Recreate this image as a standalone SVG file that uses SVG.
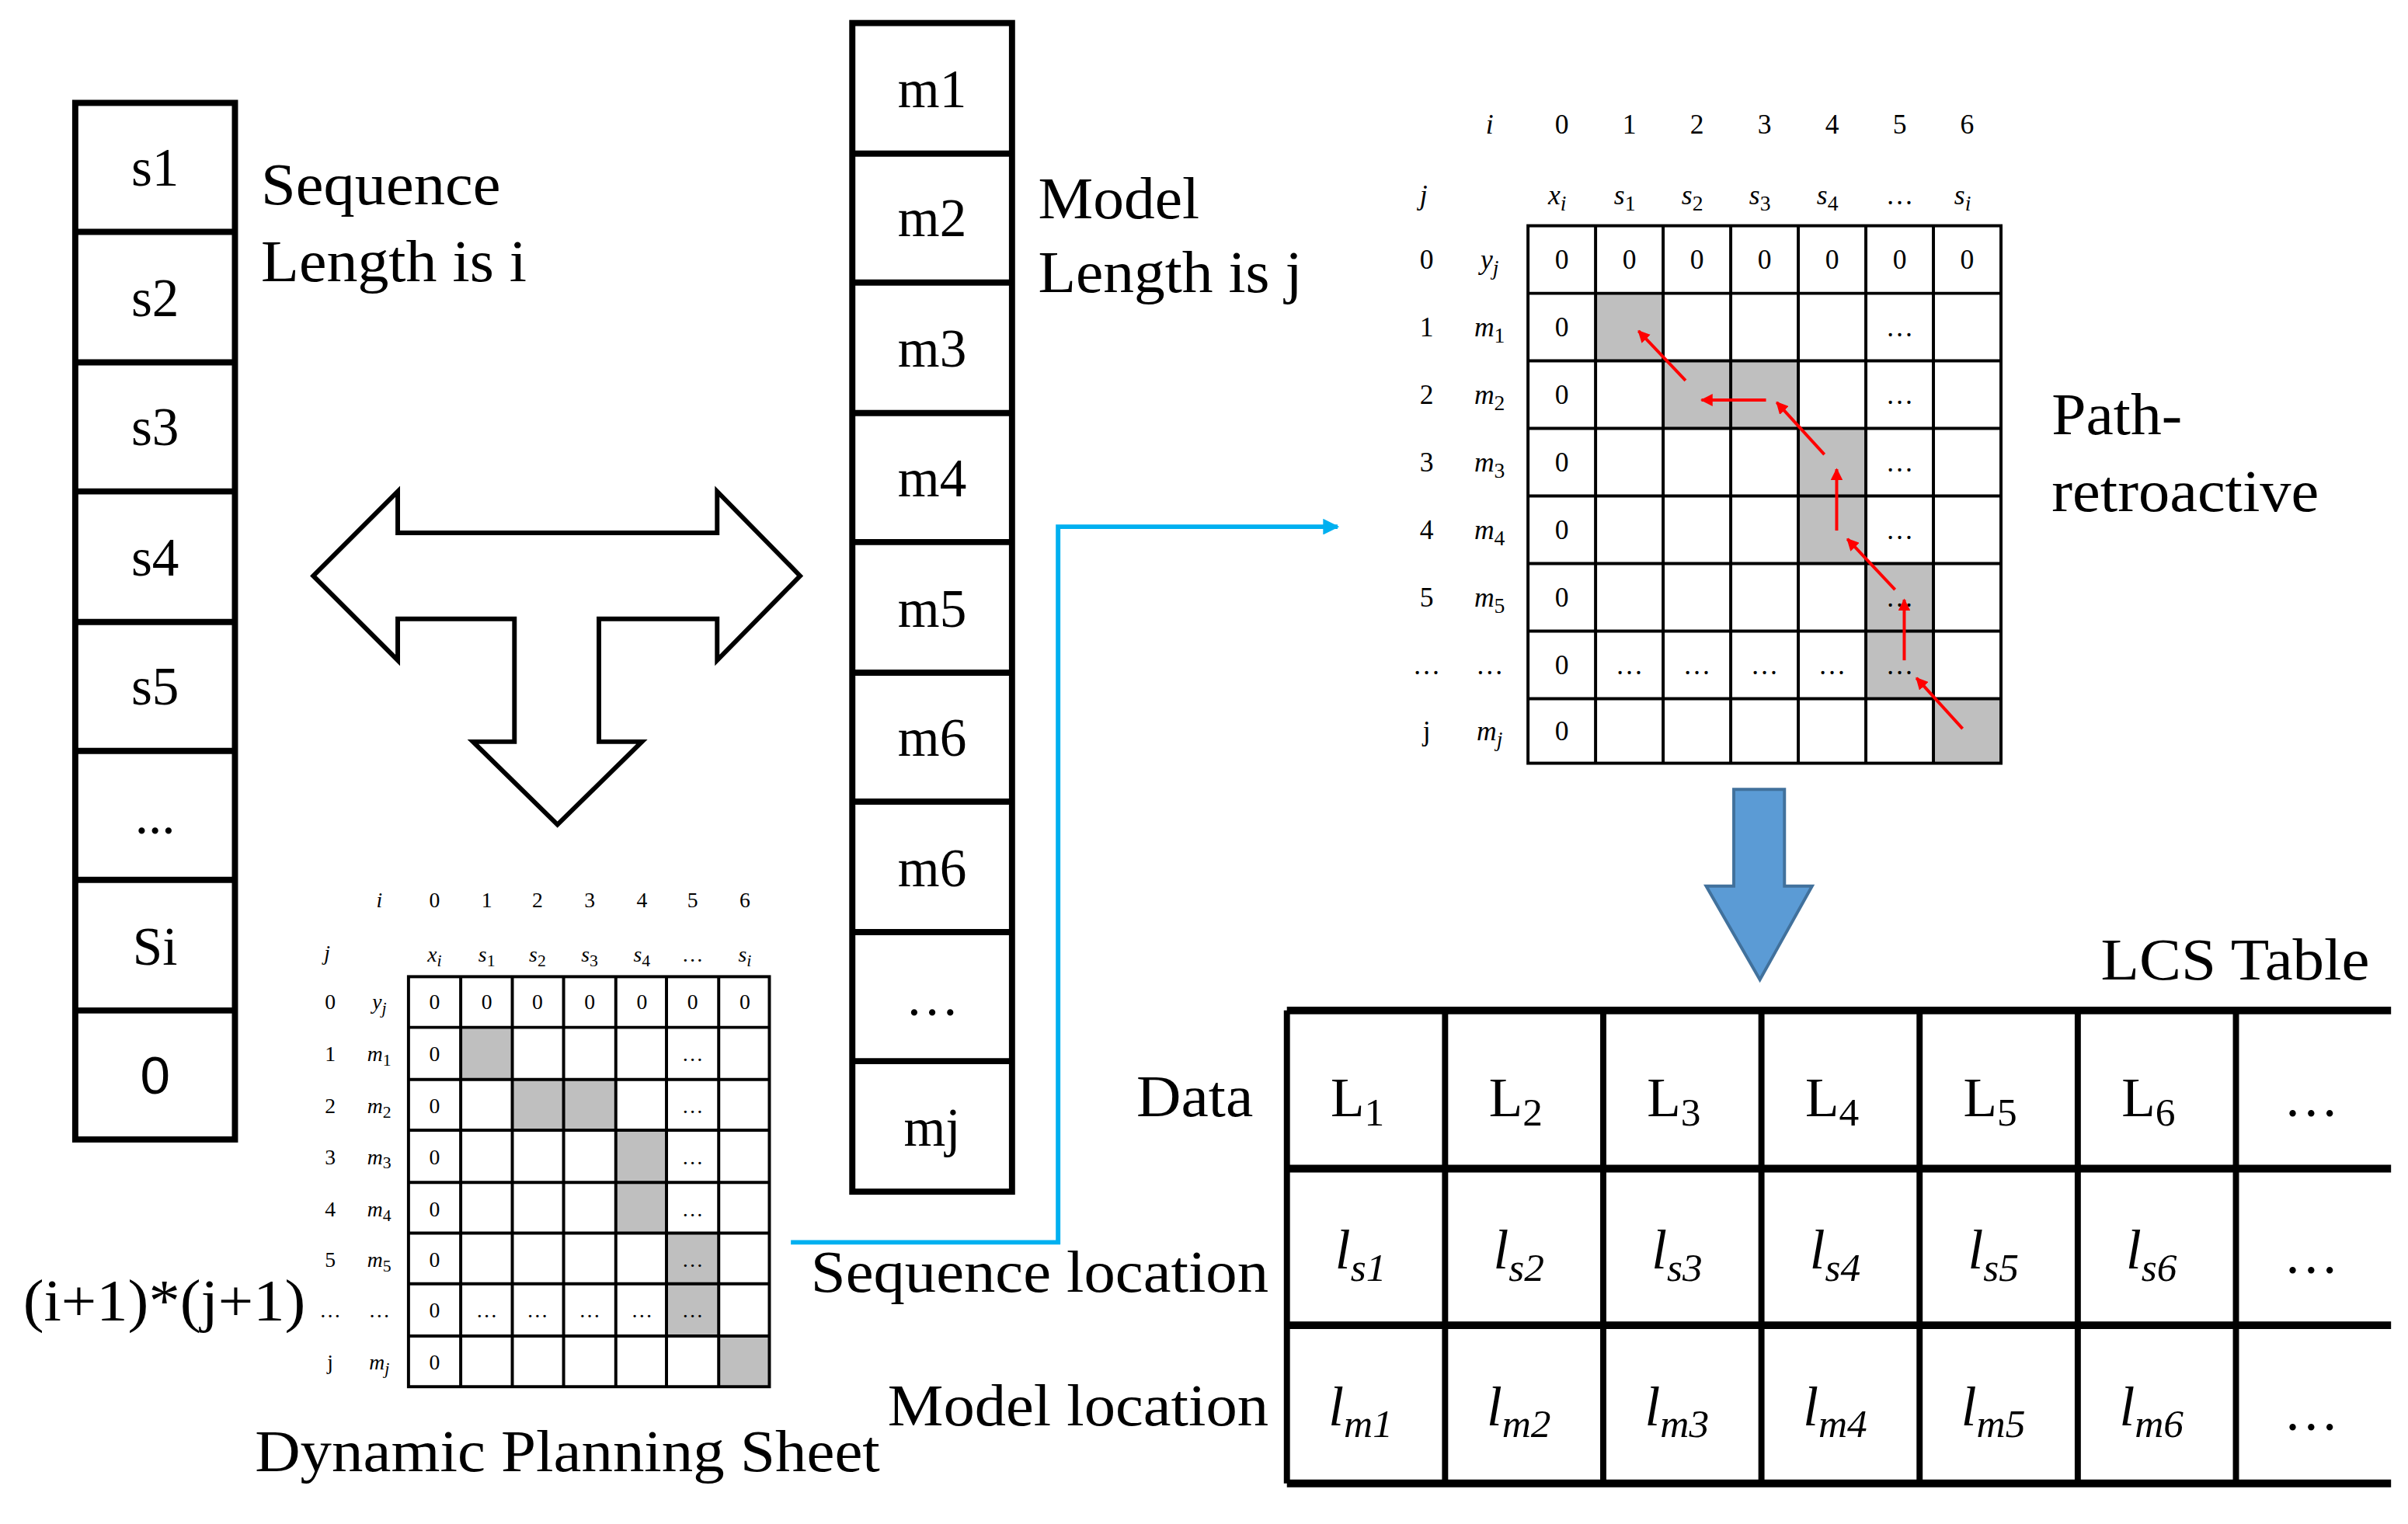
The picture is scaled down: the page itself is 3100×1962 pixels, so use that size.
<svg xmlns="http://www.w3.org/2000/svg" width="3100" height="1962" viewBox="0 0 3100 1962">
<style>
.t{font-family:"Liberation Serif","Times New Roman",serif;fill:#000}
.c{text-anchor:middle}
.it{font-style:italic}
.box{fill:#fff;stroke:#000;stroke-width:4}
.grid{fill:none;stroke:#000;stroke-width:2}
.g{fill:#bfbfbf}
</style>
<defs>
<marker id="ra" viewBox="0 0 10 10" refX="9" refY="5" markerWidth="4" markerHeight="4" orient="auto"><path d="M0,0L10,5L0,10z" fill="#f00"/></marker>
<marker id="ba" viewBox="0 0 10 10" refX="9" refY="5" markerWidth="3.5" markerHeight="3.5" orient="auto"><path d="M0,0L10,5L0,10z" fill="#00b0f0"/></marker>
</defs>
<rect width="3100" height="1962" fill="#fff"/>
<g transform="scale(1.977)">
<g id="sequence">
<rect class="box" x="49" y="67" width="104" height="675"/>
<path d="M49 151H153M49 236H153M49 320H153M49 405H153M49 489H153M49 573H153M49 658H153" stroke="#000" stroke-width="4"/>
<g class="t c" font-size="35">
<text x="101" y="121">s1</text><text x="101" y="206">s2</text><text x="101" y="290">s3</text><text x="101" y="375">s4</text><text x="101" y="459">s5</text><text x="101" y="543">...</text><text x="101" y="628">Si</text>
<text x="101" y="712" font-family="Liberation Sans,Arial,sans-serif">0</text>
</g>
<text class="t" font-size="39" x="170" y="133" textLength="156" lengthAdjust="spacingAndGlyphs">Sequence</text>
<text class="t" font-size="39" x="170" y="183" textLength="173" lengthAdjust="spacingAndGlyphs">Length is i</text>
</g>
<g id="model">
<rect class="box" x="555" y="15" width="104" height="761"/>
<path d="M555 100H659M555 184H659M555 269H659M555 353H659M555 438H659M555 522H659M555 607H659M555 691H659" stroke="#000" stroke-width="4"/>
<g class="t c" font-size="35">
<text x="607" y="70">m1</text><text x="607" y="154">m2</text><text x="607" y="239">m3</text><text x="607" y="323">m4</text><text x="607" y="408">m5</text><text x="607" y="492">m6</text><text x="607" y="577">m6</text><text x="607" y="661">…</text><text x="607" y="746">mj</text>
</g>
<text class="t" font-size="39" x="676" y="142" textLength="105" lengthAdjust="spacingAndGlyphs">Model</text>
<text class="t" font-size="39" x="676" y="190" textLength="172" lengthAdjust="spacingAndGlyphs">Length is j</text>
</g>
<g id="tee-arrow">
<path d="M204 375L259 320V347H467V320L521 375L467 430V403H390V483H418L363 537L308 483H335V403H259V430Z" fill="#fff" stroke="#000" stroke-width="3"/>
</g>
<g id="dp-sheet">
<g class="g">
<rect x="300" y="669" width="33.6" height="33.4"/><rect x="333.6" y="703" width="67.2" height="33.4"/><rect x="401" y="736" width="33.6" height="67"/><rect x="434" y="803" width="33.6" height="67"/><rect x="468" y="870" width="33.6" height="33.4"/>
</g>
<rect class="grid" x="266" y="636" width="235" height="267"/>
<path class="grid" d="M300 636V903M333.6 636V903M367 636V903M401 636V903M434 636V903M468 636V903M266 669H501M266 703H501M266 736H501M266 770H501M266 803H501M266 836H501M266 870H501"/>
<g class="t c" font-size="14">
<text x="247" y="591" class="it">i</text><text x="283" y="591">0</text><text x="317" y="591">1</text><text x="350" y="591">2</text><text x="384" y="591">3</text><text x="418" y="591">4</text><text x="451" y="591">5</text><text x="485" y="591">6</text>
<text x="213" y="625" class="it">j</text>
<text x="283" y="626" class="it">x<tspan font-size="11" dy="3">i</tspan></text>
<text x="317" y="626" class="it">s<tspan font-size="11" dy="3" font-style="normal">1</tspan></text>
<text x="350" y="626" class="it">s<tspan font-size="11" dy="3" font-style="normal">2</tspan></text>
<text x="384" y="626" class="it">s<tspan font-size="11" dy="3" font-style="normal">3</tspan></text>
<text x="418" y="626" class="it">s<tspan font-size="11" dy="3" font-style="normal">4</tspan></text>
<text x="451" y="626">…</text>
<text x="485" y="626" class="it">s<tspan font-size="11" dy="3">i</tspan></text>
<text x="215" y="657">0</text><text x="215" y="691">1</text><text x="215" y="725">2</text><text x="215" y="758">3</text><text x="215" y="792">4</text><text x="215" y="825">5</text><text x="215" y="858">…</text><text x="215" y="892">j</text>
<text x="247" y="657" class="it">y<tspan font-size="11" dy="3">j</tspan></text>
<text x="247" y="691" class="it">m<tspan font-size="11" dy="3" font-style="normal">1</tspan></text>
<text x="247" y="725" class="it">m<tspan font-size="11" dy="3" font-style="normal">2</tspan></text>
<text x="247" y="758" class="it">m<tspan font-size="11" dy="3" font-style="normal">3</tspan></text>
<text x="247" y="792" class="it">m<tspan font-size="11" dy="3" font-style="normal">4</tspan></text>
<text x="247" y="825" class="it">m<tspan font-size="11" dy="3" font-style="normal">5</tspan></text>
<text x="247" y="858">…</text>
<text x="247" y="892" class="it">m<tspan font-size="11" dy="3">j</tspan></text>
<text x="283" y="657">0</text><text x="317" y="657">0</text><text x="350" y="657">0</text><text x="384" y="657">0</text><text x="418" y="657">0</text><text x="451" y="657">0</text><text x="485" y="657">0</text>
<text x="283" y="691">0</text><text x="283" y="725">0</text><text x="283" y="758">0</text><text x="283" y="792">0</text><text x="283" y="825">0</text><text x="283" y="858">0</text><text x="283" y="892">0</text>
<text x="451" y="691">…</text><text x="451" y="725">…</text><text x="451" y="758">…</text><text x="451" y="792">…</text><text x="451" y="825">…</text><text x="451" y="858">…</text>
<text x="317" y="858">…</text><text x="350" y="858">…</text><text x="384" y="858">…</text><text x="418" y="858">…</text>
</g>
<text class="t" font-size="38" x="15" y="860" textLength="184" lengthAdjust="spacingAndGlyphs">(i+1)*(j+1)</text>
<text class="t" font-size="38" x="166" y="958" textLength="407" lengthAdjust="spacingAndGlyphs">Dynamic Planning Sheet</text>
</g>
<g id="path-table">
<g class="g">
<rect x="1039" y="191" width="44" height="44"/><rect x="1083" y="235" width="88" height="44"/><rect x="1171" y="279" width="44" height="88"/><rect x="1215" y="367" width="44" height="88"/><rect x="1259" y="455" width="44" height="42"/>
</g>
<rect class="grid" x="995" y="147" width="308" height="350"/>
<path class="grid" d="M1039 147V497M1083 147V497M1127 147V497M1171 147V497M1215 147V497M1259 147V497M995 191H1303M995 235H1303M995 279H1303M995 323H1303M995 367H1303M995 411H1303M995 455H1303"/>
<g class="t c" font-size="18">
<text x="970" y="87" class="it">i</text><text x="1017" y="87">0</text><text x="1061" y="87">1</text><text x="1105" y="87">2</text><text x="1149" y="87">3</text><text x="1193" y="87">4</text><text x="1237" y="87">5</text><text x="1281" y="87">6</text>
<text x="927" y="133" class="it">j</text>
<text x="1014" y="133" class="it">x<tspan font-size="14" dy="4">i</tspan></text>
<text x="1058" y="133" class="it">s<tspan font-size="14" dy="4" font-style="normal">1</tspan></text>
<text x="1102" y="133" class="it">s<tspan font-size="14" dy="4" font-style="normal">2</tspan></text>
<text x="1146" y="133" class="it">s<tspan font-size="14" dy="4" font-style="normal">3</tspan></text>
<text x="1190" y="133" class="it">s<tspan font-size="14" dy="4" font-style="normal">4</tspan></text>
<text x="1237" y="133">…</text>
<text x="1278" y="133" class="it">s<tspan font-size="14" dy="4">i</tspan></text>
<text x="929" y="175">0</text><text x="929" y="219">1</text><text x="929" y="263">2</text><text x="929" y="307">3</text><text x="929" y="351">4</text><text x="929" y="395">5</text><text x="929" y="439">…</text><text x="929" y="482">j</text>
<text x="970" y="175" class="it">y<tspan font-size="14" dy="4">j</tspan></text>
<text x="970" y="219" class="it">m<tspan font-size="14" dy="4" font-style="normal">1</tspan></text>
<text x="970" y="263" class="it">m<tspan font-size="14" dy="4" font-style="normal">2</tspan></text>
<text x="970" y="307" class="it">m<tspan font-size="14" dy="4" font-style="normal">3</tspan></text>
<text x="970" y="351" class="it">m<tspan font-size="14" dy="4" font-style="normal">4</tspan></text>
<text x="970" y="395" class="it">m<tspan font-size="14" dy="4" font-style="normal">5</tspan></text>
<text x="970" y="439">…</text>
<text x="970" y="482" class="it">m<tspan font-size="14" dy="4">j</tspan></text>
<text x="1017" y="175">0</text><text x="1061" y="175">0</text><text x="1105" y="175">0</text><text x="1149" y="175">0</text><text x="1193" y="175">0</text><text x="1237" y="175">0</text><text x="1281" y="175">0</text>
<text x="1017" y="219">0</text><text x="1017" y="263">0</text><text x="1017" y="307">0</text><text x="1017" y="351">0</text><text x="1017" y="395">0</text><text x="1017" y="439">0</text><text x="1017" y="482">0</text>
<text x="1237" y="219">…</text><text x="1237" y="263">…</text><text x="1237" y="307">…</text><text x="1237" y="351">…</text><text x="1237" y="395">…</text><text x="1237" y="439">…</text>
<text x="1061" y="439">…</text><text x="1105" y="439">…</text><text x="1149" y="439">…</text><text x="1193" y="439">…</text>
</g>
<g stroke="#f00" stroke-width="2" marker-end="url(#ra)">
<line x1="1097.6" y1="247.8" x2="1067" y2="215.5"/>
<line x1="1150" y1="260.5" x2="1108" y2="260.5"/>
<line x1="1188" y1="296" x2="1157" y2="262"/>
<line x1="1196" y1="345.5" x2="1196" y2="305.5"/>
<line x1="1234" y1="384" x2="1203" y2="351"/>
<line x1="1240" y1="430" x2="1240" y2="390.5"/>
<line x1="1278" y1="474.5" x2="1248" y2="441.5"/>
</g>
<text class="t" font-size="39" x="1336" y="283" textLength="85" lengthAdjust="spacingAndGlyphs">Path-</text>
<text class="t" font-size="39" x="1336" y="333" textLength="174" lengthAdjust="spacingAndGlyphs">retroactive</text>
</g>
<g id="connectors">
<path d="M515 809H689V343H871" fill="none" stroke="#00b0f0" stroke-width="3" marker-end="url(#ba)"/>
<path d="M1129 514H1162V577H1180L1146 638L1111 577H1129Z" fill="#5b9bd5" stroke="#41719c" stroke-width="2"/>
</g>
<g id="lcs-table">
<text class="t" font-size="39" x="1368" y="638" textLength="175" lengthAdjust="spacingAndGlyphs">LCS Table</text>
<path d="M838 658H1557M838 761H1557M838 863H1557M838 966H1557" stroke="#000" stroke-width="5"/>
<path d="M838 658V966M941 658V966M1044 658V966M1147 658V966M1250 658V966M1353 658V966M1456 658V966" stroke="#000" stroke-width="4"/>
<g class="t" font-size="38">
<text x="740" y="727" textLength="76" lengthAdjust="spacingAndGlyphs">Data</text>
<text x="528" y="841" textLength="298" lengthAdjust="spacingAndGlyphs">Sequence location</text>
<text x="578" y="928" textLength="248" lengthAdjust="spacingAndGlyphs">Model location</text>
</g>
<g class="t c" font-size="36">
<text x="884" y="727">L<tspan font-size="26" dy="6">1</tspan></text>
<text x="987" y="727">L<tspan font-size="26" dy="6">2</tspan></text>
<text x="1090" y="727">L<tspan font-size="26" dy="6">3</tspan></text>
<text x="1193" y="727">L<tspan font-size="26" dy="6">4</tspan></text>
<text x="1296" y="727">L<tspan font-size="26" dy="6">5</tspan></text>
<text x="1399" y="727">L<tspan font-size="26" dy="6">6</tspan></text>
<text x="1505" y="727">…</text>
<text x="886" y="826" class="it">l<tspan font-size="26" dy="8">s1</tspan></text>
<text x="989" y="826" class="it">l<tspan font-size="26" dy="8">s2</tspan></text>
<text x="1092" y="826" class="it">l<tspan font-size="26" dy="8">s3</tspan></text>
<text x="1195" y="826" class="it">l<tspan font-size="26" dy="8">s4</tspan></text>
<text x="1298" y="826" class="it">l<tspan font-size="26" dy="8">s5</tspan></text>
<text x="1401" y="826" class="it">l<tspan font-size="26" dy="8">s6</tspan></text>
<text x="1505" y="829">…</text>
<text x="886" y="928" class="it">l<tspan font-size="26" dy="8">m1</tspan></text>
<text x="989" y="928" class="it">l<tspan font-size="26" dy="8">m2</tspan></text>
<text x="1092" y="928" class="it">l<tspan font-size="26" dy="8">m3</tspan></text>
<text x="1195" y="928" class="it">l<tspan font-size="26" dy="8">m4</tspan></text>
<text x="1298" y="928" class="it">l<tspan font-size="26" dy="8">m5</tspan></text>
<text x="1401" y="928" class="it">l<tspan font-size="26" dy="8">m6</tspan></text>
<text x="1505" y="931">…</text>
</g>
</g>
</g>
</svg>
